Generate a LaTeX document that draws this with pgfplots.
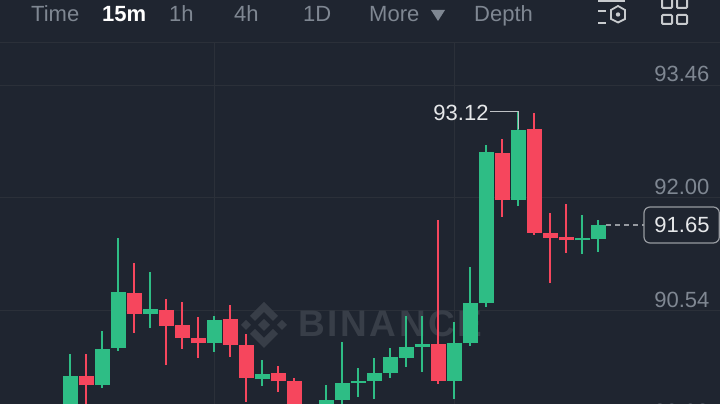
\documentclass[border=0pt]{standalone}
\usepackage{pgfplots}
\usepackage{pgfplotstable}
\usepackage{fontspec}
\setmainfont{Liberation Sans}
\newfontfamily\wmfont[LetterSpace=7]{Liberation Sans}
\pgfplotsset{compat=1.18}
\definecolor{bg}{HTML}{1F2530}
\definecolor{gridc}{HTML}{2B3039}
\definecolor{up}{HTML}{2EBD85}
\definecolor{down}{HTML}{F6465D}
\definecolor{txt}{HTML}{7F8792}
\definecolor{hi}{HTML}{E6E8EA}
\definecolor{wm}{HTML}{383E48}
% x = candle index, b/t = body bottom/top, h/l = high/low
\pgfplotstableread{
x b t h l
0 89.15 89.698 89.979 89.10
2 89.577 90.044 90.277 89.539
3 90.057 90.778 91.478 90.018
5 90.501 90.558 91.037 90.316
9 90.118 90.416 90.467 90.001
12 89.655 89.724 89.905 89.564
16 89.15 89.383 89.577 89.10
17 89.383 89.603 90.134 89.318
18 89.599 89.633 89.794 89.426
19 89.633 89.733 89.923 89.400
20 89.733 89.936 90.053 89.664
21 89.927 90.066 90.467 89.807
22 90.070 90.109 90.467 89.750
24 89.633 90.121 90.390 89.400
25 90.118 90.636 91.106 90.083
26 90.636 92.592 92.687 90.592
28 91.978 92.877 93.120 91.896
32 91.452 91.486 91.776 91.275
33 91.469 91.650 91.711 91.300
}\upcandles
\pgfplotstableread{
x b t h l
1 89.577 89.698 89.979 89.10
4 90.497 90.765 91.158 90.251
6 90.346 90.553 90.688 89.837
7 90.186 90.355 90.649 90.044
8 90.118 90.186 90.458 89.923
10 90.096 90.429 90.618 89.940
11 89.668 90.096 90.234 89.353
13 89.625 89.737 89.827 89.483
14 89.10 89.625 89.668 89.05
23 89.633 90.105 91.715 89.594
27 91.978 92.579 92.760 91.754
29 91.547 92.890 93.101 91.525
30 91.486 91.547 91.806 90.895
31 91.452 91.495 91.918 91.291
}\downcandles
\begin{document}
\begin{tikzpicture}
\begin{axis}[
  at={(0,0)}, anchor=south west,
  scale only axis, width=720pt, height=404pt,
  xmin=-4.394, xmax=40.606, ymin=89.331, ymax=94.565,
  axis line style={draw=none},
  axis background/.style={fill=bg},
  tick style={draw=none},
  xtick={9,24}, xticklabels={},
  ytick={90.54,92.00,93.46},
  yticklabel pos=right,
  yticklabel style={anchor=base east, xshift=-7pt, yshift=3.5pt, text=txt, font=\fontsize{22}{26}\selectfont,
    /pgf/number format/fixed, /pgf/number format/fixed zerofill, /pgf/number format/precision=2, /pgf/number format/assume math mode=true},
  grid=major,
  grid style={gridc, line width=1pt},
  clip=true,
]
% top band
\fill[bg] (rel axis cs:0,0.8936) rectangle (rel axis cs:1,1);
\draw[gridc, line width=1pt] (rel axis cs:0,0.8936) -- (rel axis cs:1,0.8936);
% watermark
\node[anchor=base west, text=wm, font=\wmfont\fontsize{37}{40}\bfseries\selectfont, inner sep=0pt] at (axis cs:14.25,90.20) {BINANCE};
\begin{scope}[shift={(axis cs:12.106,90.355)}]
\fill[wm] (0pt,6pt) -- (6pt,0pt) -- (0pt,-6pt) -- (-6pt,0pt) -- cycle;
\fill[wm] (-18pt,5pt) -- (-13pt,0pt) -- (-18pt,-5pt) -- (-23pt,0pt) -- cycle;
\fill[wm] (18pt,5pt) -- (23pt,0pt) -- (18pt,-5pt) -- (13pt,0pt) -- cycle;
\fill[wm] (0pt,23pt) -- (14pt,9pt) -- (9pt,4pt) -- (0pt,13pt) -- (-9pt,4pt) -- (-14pt,9pt) -- cycle;
\fill[wm] (0pt,-23pt) -- (14pt,-9pt) -- (9pt,-4pt) -- (0pt,-13pt) -- (-9pt,-4pt) -- (-14pt,-9pt) -- cycle;
\end{scope}
% wicks
\addplot[draw=none, mark=none, forget plot, error bars/.cd, y dir=both, y explicit, error mark=none, error bar style={up, line width=2pt}]
  table[x=x, y=b, y error plus expr=\thisrow{h}-\thisrow{b}, y error minus expr=\thisrow{b}-\thisrow{l}] {\upcandles};
\addplot[draw=none, mark=none, forget plot, error bars/.cd, y dir=both, y explicit, error mark=none, error bar style={down, line width=2pt}]
  table[x=x, y=b, y error plus expr=\thisrow{h}-\thisrow{b}, y error minus expr=\thisrow{b}-\thisrow{l}] {\downcandles};
% bodies
\addplot[draw=none, mark=none, forget plot, error bars/.cd, y dir=plus, y explicit, error mark=none, error bar style={up, line width=14.5pt}]
  table[x=x, y=b, y error plus expr=\thisrow{t}-\thisrow{b}] {\upcandles};
\addplot[draw=none, mark=none, forget plot, error bars/.cd, y dir=plus, y explicit, error mark=none, error bar style={down, line width=14.5pt}]
  table[x=x, y=b, y error plus expr=\thisrow{t}-\thisrow{b}] {\downcandles};
% high label
\draw[hi!80!bg, line width=1.2pt] (axis cs:28,92.90) -- (axis cs:28,93.12) -- (axis cs:26.2,93.12);
\node[anchor=east, text=hi, font=\fontsize{22}{26}\selectfont, inner sep=0pt] at (axis cs:26.15,93.10) {93.12};
% last price
\draw[hi!60!bg, line width=1.3pt, dash pattern=on 5pt off 4pt] (axis cs:33.5,91.65) -- (axis cs:35.85,91.65);
\end{axis}
% price tag and toolbar, in picture pixels (origin bottom-left)
\draw[hi!60!bg, line width=1.2pt, rounded corners=6pt, fill=bg] (644pt,161pt) rectangle (719.3pt,197pt);
\node[text=hi, font=\fontsize{22}{26}\selectfont, inner sep=0pt] at (682pt,179pt) {91.65};
\begin{scope}
\clip (0pt,0pt) rectangle (720pt,404pt);
\node[anchor=base east, text=txt, font=\fontsize{22}{26}\selectfont, inner sep=0pt] at (709pt,-15.5pt) {89.08};
\tikzset{tb/.style={anchor=base west, text=txt, inner sep=0pt, font=\fontsize{22}{26}\selectfont}}
\node[tb] at (31pt,382pt) {Time};
\node[tb, text=white, font=\fontsize{22}{26}\bfseries\selectfont] at (102pt,382pt) {15m};
\node[tb] at (169pt,382pt) {1h};
\node[tb] at (234pt,382pt) {4h};
\node[tb] at (303pt,382pt) {1D};
\node[tb] at (369pt,382pt) {More};
\fill[txt] (431pt,394pt) -- (445pt,394pt) -- (438pt,383pt) -- cycle;
\node[tb] at (474pt,382pt) {Depth};
% icons
\draw[hi!85!bg, line width=2pt] (598pt,403pt) -- (625pt,403pt);
\draw[hi!85!bg, line width=2pt] (598pt,392.5pt) -- (606pt,392.5pt);
\draw[hi!85!bg, line width=2pt] (598pt,381pt) -- (606pt,381pt);
\draw[hi!85!bg, line width=1.8pt] (618pt,381.5pt) -- (625pt,385pt) -- (625pt,394pt) -- (618pt,398pt) -- (611pt,394pt) -- (611pt,385pt) -- cycle;
\fill[hi!85!bg] (618pt,389.5pt) circle (2.2pt);
\draw[hi!85!bg, line width=2pt, rounded corners=1pt] (662pt,396pt) rectangle (672pt,406pt);
\draw[hi!85!bg, line width=2pt, rounded corners=1pt] (677pt,396pt) rectangle (687pt,406pt);
\draw[hi!85!bg, line width=2pt, rounded corners=1pt] (662pt,380pt) rectangle (672pt,389pt);
\draw[hi!85!bg, line width=2pt, rounded corners=1pt] (677pt,380pt) rectangle (687pt,389pt);
\end{scope}
\pgfresetboundingbox
\path[use as bounding box] (0pt,0pt) rectangle (720pt,404pt);
\end{tikzpicture}
\end{document}
